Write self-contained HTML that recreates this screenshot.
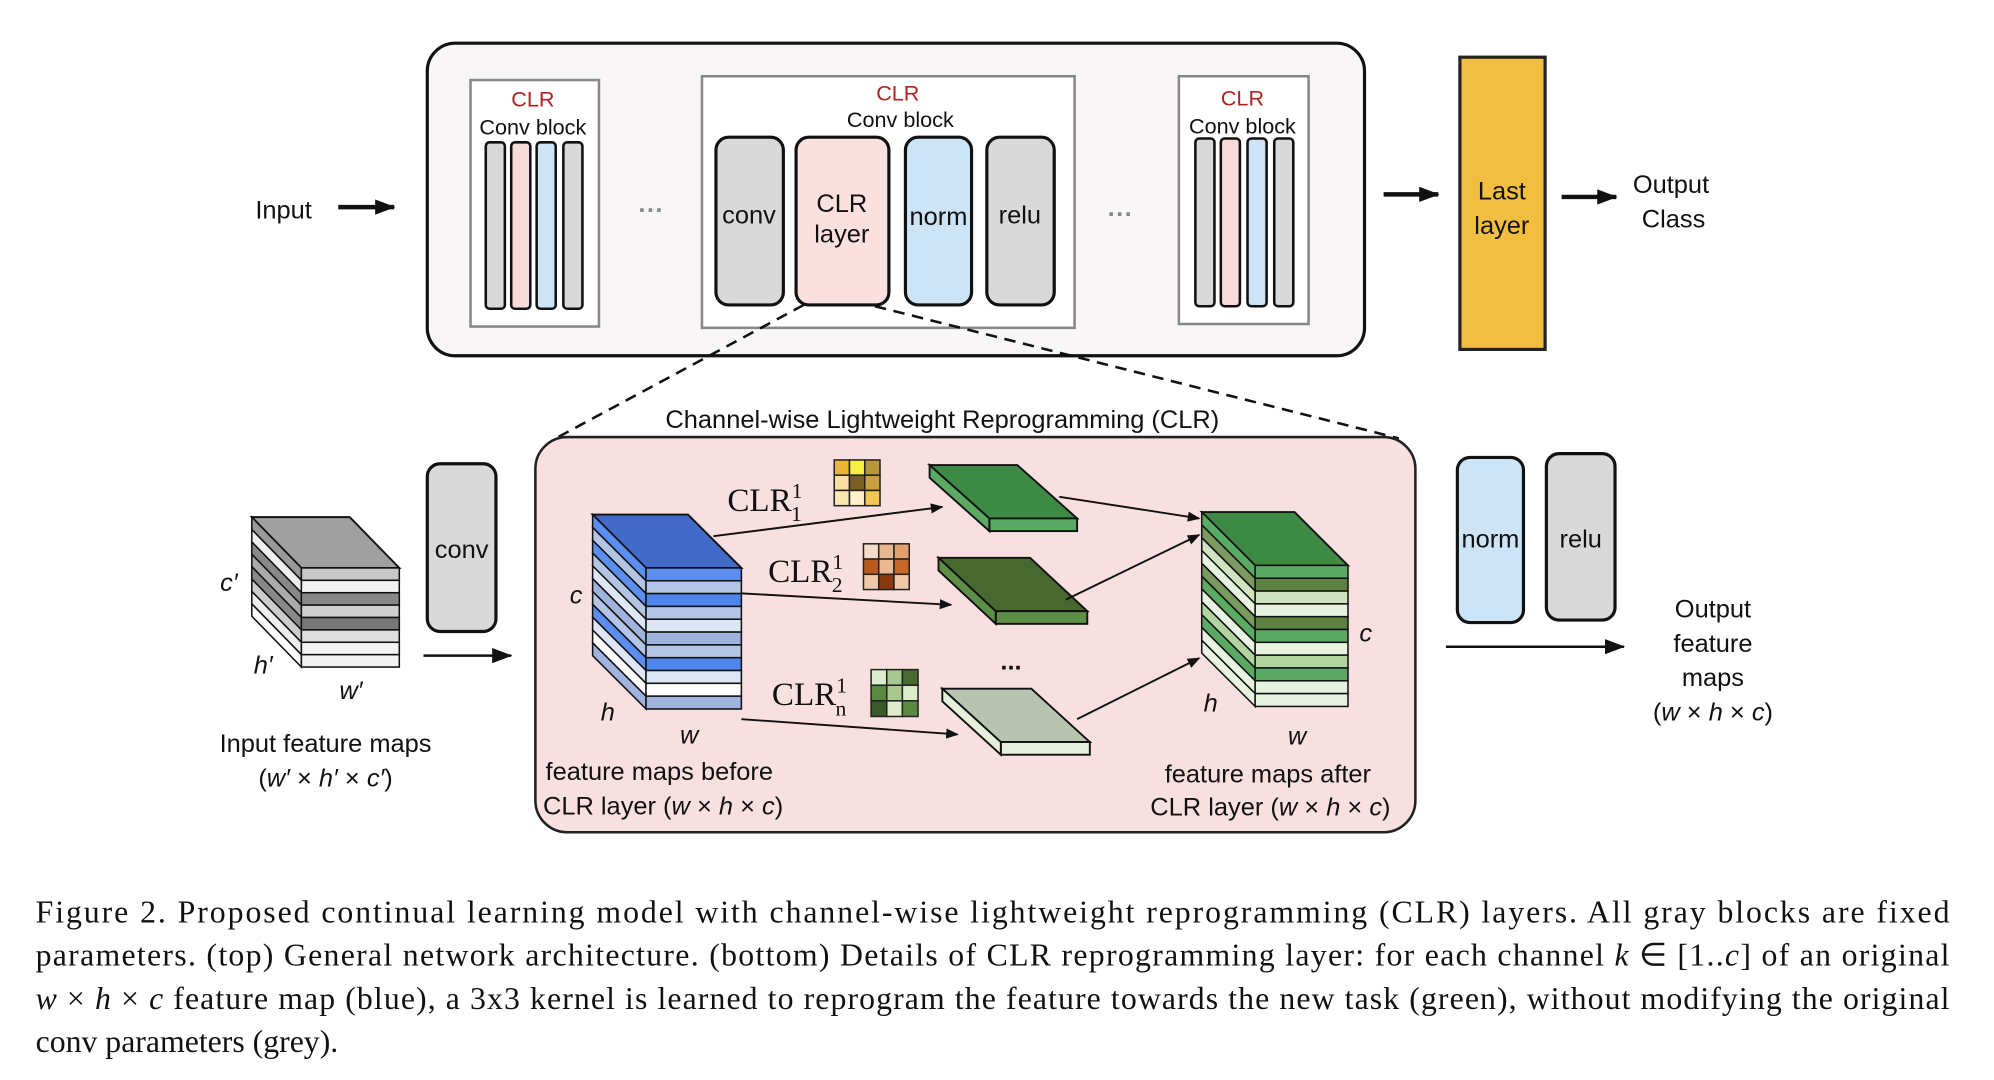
<!DOCTYPE html>
<html><head><meta charset="utf-8"><style>
html,body{margin:0;padding:0;background:#fff;width:1994px;height:1080px;overflow:hidden}
svg{display:block}
.s{font-family:"Liberation Sans",sans-serif;font-size:20px;fill:#111}
.c{text-anchor:middle}
.r{font-family:"Liberation Serif",serif;font-size:25px;fill:#111}
.m{font-family:"Liberation Serif",serif;font-size:26px;fill:#111}
</style></head><body>
<svg id="sv" width="1994" height="1080" viewBox="0 0 1568 850" preserveAspectRatio="none" xmlns="http://www.w3.org/2000/svg">
<defs><marker id="a" markerWidth="10" markerHeight="8" refX="9" refY="4" orient="auto" markerUnits="userSpaceOnUse"><path d="M0,0 L10,4 L0,8 z" fill="#111"/></marker>
<marker id="b" markerWidth="16" markerHeight="12" refX="15" refY="6" orient="auto" markerUnits="userSpaceOnUse"><path d="M0,0 L16,6 L0,12 z" fill="#111"/></marker></defs>
<!-- top -->
<rect x="336" y="34" width="737" height="246" rx="22" fill="#f8f6f6" stroke="#111" stroke-width="2.5"/>
<rect x="370" y="63" width="101" height="194" fill="#fff" stroke="#888" stroke-width="2"/>
<text class="s c" x="419" y="84" style="fill:#b22222;font-size:17px">CLR</text>
<text class="s c" x="419" y="106" style="font-size:17px">Conv block</text>
<rect x="552" y="60" width="293" height="198" fill="#fff" stroke="#888" stroke-width="2"/>
<text class="s c" x="706" y="79" style="fill:#b22222;font-size:17px">CLR</text>
<text class="s c" x="708" y="100" style="font-size:17px">Conv block</text>
<rect x="927" y="60" width="102" height="195" fill="#fff" stroke="#888" stroke-width="2"/>
<text class="s c" x="977" y="83" style="fill:#b22222;font-size:17px">CLR</text>
<text class="s c" x="977" y="105" style="font-size:17px">Conv block</text>
<g stroke="#111" stroke-width="2">
<rect x="382" y="112" width="15" height="131" rx="3" fill="#d9d9d9"/><rect x="402" y="112" width="15" height="131" rx="3" fill="#f8dcdc"/><rect x="422" y="112" width="15" height="131" rx="3" fill="#cce4f5"/><rect x="443" y="112" width="15" height="131" rx="3" fill="#d9d9d9"/>
<rect x="940" y="109" width="15" height="132" rx="3" fill="#d9d9d9"/><rect x="960" y="109" width="15" height="132" rx="3" fill="#f8dcdc"/><rect x="981" y="109" width="15" height="132" rx="3" fill="#cce4f5"/><rect x="1002" y="109" width="15" height="132" rx="3" fill="#d9d9d9"/>
</g>
<g stroke="#111" stroke-width="2.5">
<rect x="563" y="108" width="53" height="132" rx="10" fill="#d9d9d9"/>
<rect x="626" y="108" width="73" height="132" rx="10" fill="#fbe0e0"/>
<rect x="712" y="108" width="52" height="132" rx="10" fill="#cce4f5"/>
<rect x="776" y="108" width="53" height="132" rx="10" fill="#d9d9d9"/>
</g>
<text class="s c" x="589" y="176">conv</text>
<text class="s c" x="662" y="167">CLR</text><text class="s c" x="662" y="191">layer</text>
<text class="s c" x="738" y="177">norm</text>
<text class="s c" x="802" y="176">relu</text>
<text class="s c" x="512" y="172" style="fill:#888;font-weight:bold">···</text>
<text class="s c" x="881" y="175" style="fill:#888;font-weight:bold">···</text>
<text class="s c" x="223" y="172">Input</text>
<g stroke="#111" stroke-width="3.5">
<line x1="266" y1="163" x2="310" y2="163" marker-end="url(#b)"/>
<line x1="1088" y1="153" x2="1131" y2="153" marker-end="url(#b)"/>
<line x1="1228" y1="155" x2="1271" y2="155" marker-end="url(#b)"/>
</g>
<rect x="1148" y="45" width="67" height="230" fill="#f2be40" stroke="#222" stroke-width="2.5"/>
<text class="s c" x="1181" y="157">Last</text><text class="s c" x="1181" y="184">layer</text>
<text class="s c" x="1314" y="152">Output</text><text class="s c" x="1316" y="179">Class</text>
<!-- dashed -->
<g stroke="#111" stroke-width="2" stroke-dasharray="9,6"><line x1="632" y1="240" x2="437" y2="345"/><line x1="688" y1="241" x2="1100" y2="345"/></g>
<text class="s c" x="741" y="337">Channel-wise Lightweight Reprogramming (CLR)</text>
<rect x="421" y="344" width="692" height="311" rx="25" fill="#f9e0e0" stroke="#222" stroke-width="2"/>
<g id="stacks"></g>
<g style="font-style:italic">
<text class="s c" x="180" y="465">c′</text><text class="s c" x="207" y="530">h′</text><text class="s c" x="276" y="550">w′</text>
<text class="s c" x="453" y="475">c</text><text class="s c" x="478" y="567">h</text><text class="s c" x="542" y="585">w</text>
<text class="s c" x="952" y="560">h</text><text class="s c" x="1020" y="586">w</text><text class="s c" x="1074" y="505">c</text>
</g>
<text class="s c" x="256" y="592">Input feature maps</text>
<text class="s c" x="256" y="619">(<tspan font-style="italic">w′</tspan> × <tspan font-style="italic">h′</tspan> × <tspan font-style="italic">c′</tspan>)</text>
<rect x="336" y="365" width="54" height="132" rx="10" fill="#d9d9d9" stroke="#111" stroke-width="2.5"/>
<text class="s c" x="363" y="439">conv</text>
<line x1="333" y1="516" x2="402" y2="516" stroke="#111" stroke-width="2" marker-end="url(#b)"/>
<text class="s" x="429" y="614">feature maps before</text>
<text class="s" x="427" y="641">CLR layer (<tspan font-style="italic">w</tspan> × <tspan font-style="italic">h</tspan> × <tspan font-style="italic">c</tspan>)</text>
<text class="s c" x="997" y="616">feature maps after</text>
<text class="s c" x="999" y="642">CLR layer (<tspan font-style="italic">w</tspan> × <tspan font-style="italic">h</tspan> × <tspan font-style="italic">c</tspan>)</text>
<g stroke="#111" stroke-width="1.5">
<path d="M731,366 L800,366 L847,408 L778,408 Z" fill="#3d8a45"/><rect x="778" y="408" width="69" height="10" fill="#5aaa64"/><path d="M731,366 L778,408 L778,418 L731,376Z" fill="#5aaa64"/>
<path d="M738,439 L810,439 L855,481 L783,481 Z" fill="#47692f"/><rect x="783" y="481" width="72" height="10" fill="#5e8f48"/><path d="M738,439 L783,481 L783,491 L738,449Z" fill="#5e8f48"/>
<path d="M741,542 L811,542 L857,584 L787,584 Z" fill="#b8c4b0"/><rect x="787" y="584" width="70" height="10" fill="#e4f0dc"/><path d="M741,542 L787,584 L787,594 L741,552Z" fill="#e4f0dc"/>
</g>
<text class="s c" x="795" y="527" style="font-weight:bold">...</text>
<g id="kern" stroke="#222" stroke-width="1.2"></g>
<text class="m" x="572" y="402">CLR<tspan font-size="17" dy="-10">1</tspan><tspan font-size="17" dx="-9" dy="18">1</tspan></text>
<text class="m" x="604" y="458">CLR<tspan font-size="17" dy="-10">1</tspan><tspan font-size="17" dx="-9" dy="18">2</tspan></text>
<text class="m" x="607" y="555">CLR<tspan font-size="17" dy="-10">1</tspan><tspan font-size="17" dx="-9" dy="18">n</tspan></text>
<g stroke="#111" stroke-width="1.5" marker-end="url(#a)">
<line x1="561" y1="422" x2="741" y2="399"/><line x1="583" y1="467" x2="748" y2="476"/><line x1="583" y1="566" x2="753" y2="578"/>
<line x1="833" y1="391" x2="943" y2="408"/><line x1="838" y1="472" x2="943" y2="421"/><line x1="847" y1="566" x2="943" y2="518"/>
</g>
<rect x="1146" y="360" width="52" height="130" rx="10" fill="#cce4f5" stroke="#111" stroke-width="2.5"/>
<rect x="1216" y="357" width="54" height="131" rx="10" fill="#d9d9d9" stroke="#111" stroke-width="2.5"/>
<text class="s c" x="1172" y="431">norm</text><text class="s c" x="1243" y="431">relu</text>
<line x1="1137" y1="509" x2="1277" y2="509" stroke="#111" stroke-width="2" marker-end="url(#b)"/>
<text class="s c" x="1347" y="486">Output</text><text class="s c" x="1347" y="513">feature</text><text class="s c" x="1347" y="540">maps</text>
<text class="s c" x="1347" y="567">(<tspan font-style="italic">w</tspan> × <tspan font-style="italic">h</tspan> × <tspan font-style="italic">c</tspan>)</text>
<text class="r" x="28" y="726" textLength="1505" lengthAdjust="spacing">Figure 2.   Proposed continual learning model with channel-wise lightweight reprogramming (CLR) layers.  All gray blocks are fixed</text>
<text class="r" x="28" y="760" textLength="1505" lengthAdjust="spacing">parameters. (top) General network architecture. (bottom) Details of CLR reprogramming layer: for each channel <tspan font-style="italic">k</tspan> ∈ [1..<tspan font-style="italic">c</tspan>] of an original</text>
<text class="r" x="28" y="794" textLength="1505" lengthAdjust="spacing"><tspan font-style="italic">w</tspan> × <tspan font-style="italic">h</tspan> × <tspan font-style="italic">c</tspan> feature map (blue), a 3x3 kernel is learned to reprogram the feature towards the new task (green), without modifying the original</text>
<text class="r" x="28" y="828">conv parameters (grey).</text>
</svg>
<script>
var NS="http://www.w3.org/2000/svg",g=document.getElementById("stacks");
function el(t,a){var e=document.createElementNS(NS,t);for(var k in a)e.setAttribute(k,a[k]);g.appendChild(e);return e;}
function stack(x0,y0,dx,dy,w,h,top,cols,side){
 var n=cols.length,sh=h/n;
 el("path",{d:"M"+x0+","+y0+" L"+(x0+w)+","+y0+" L"+(x0+dx+w)+","+(y0+dy)+" L"+(x0+dx)+","+(y0+dy)+"Z",fill:top,stroke:"#111","stroke-width":1.5});
 for(var i=0;i<n;i++){var y=y0+dy+i*sh;
  el("path",{d:"M"+x0+","+(y0+i*sh)+" L"+(x0+dx)+","+y+" L"+(x0+dx)+","+(y+sh)+" L"+x0+","+(y0+(i+1)*sh)+"Z",fill:side[i],stroke:"#111","stroke-width":1.2});
  el("rect",{x:x0+dx,y:y,width:w,height:sh,fill:cols[i],stroke:"#111","stroke-width":1.2});}
}
stack(198,407,39,40,77,78,"#a0a0a0",["#c8c8c8","#f2f2f2","#888","#cfcfcf","#777","#ddd","#f2f2f2","#f2f2f2"],["#999","#eee","#888","#aaa","#888","#ccc","#eee","#fff"]);
stack(466,405,42,42,75,111,"#4169c8",["#5b8ef0","#b4c4e4","#4f86ee","#b4c4e4","#dde6f4","#9fb3dc","#b4c4e4","#4f86ee","#dde6f4","#ffffff","#9fb3dc"],["#5b8ef0","#b4c4e4","#5b8ef0","#b4c4e4","#dde6f4","#9fb3dc","#b4c4e4","#5b8ef0","#dde6f4","#fff","#9fb3dc"]);
stack(945,403,42,42,73,111,"#3d8a45",["#5aaa64","#5e8040","#cfe3c0","#e8f2e0","#5e8040","#5aaa64","#e8f2e0","#b0d4a0","#5aaa64","#e8f2e0","#e8f2e0"],["#5aaa64","#7a9a60","#cfe3c0","#e8f2e0","#7a9a60","#5aaa64","#e8f2e0","#b0d4a0","#5aaa64","#e8f2e0","#e8f2e0"]);
g=document.getElementById("kern");
function kern(x,y,s,c){for(var i=0;i<9;i++)el("rect",{x:x+(i%3)*s,y:y+Math.floor(i/3)*s,width:s,height:s,fill:c[i]});}
kern(656,362,12,["#e8b830","#f8f040","#b8963a","#f8e0a0","#7a6020","#c8a040","#f8e8b0","#fff0c8","#f0c850"]);
kern(679,428,12,["#f4dcc8","#e8b890","#e0a070","#b85a20","#e8b890","#c86828","#f0c8a8","#8a3810","#f0c8a8"]);
kern(685,527,12.3,["#dceccc","#a8c890","#4a6a30","#5a8a40","#a8c890","#dceccc","#3a5a28","#dceccc","#5a8a40"]);
</script>
</body></html>
